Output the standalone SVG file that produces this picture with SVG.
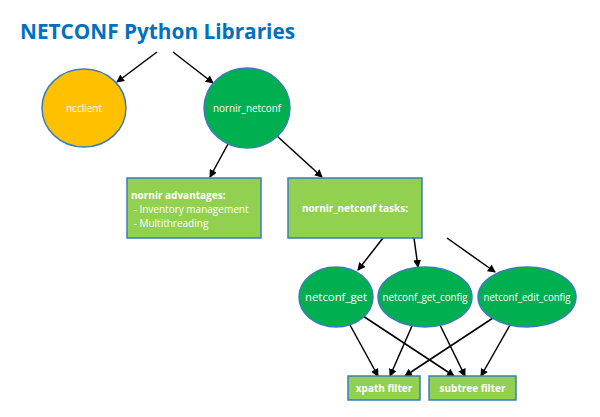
<svg xmlns="http://www.w3.org/2000/svg" width="600" height="417" viewBox="0 0 600 417">
<style>
.t{font-family:"Open Sans","Liberation Sans",sans-serif;fill:#fff;font-size:10px}
.b{font-weight:bold}
.dk{fill:#00b050;stroke:#3a7dbb;stroke-width:1.5}
.lg{fill:#92d050;stroke:#3a7dbb;stroke-width:1.5}
.c line{stroke:#000;stroke-width:1.5;marker-end:url(#a)}
</style>
<defs><marker id="a" markerWidth="8" markerHeight="8" refX="7" refY="4" orient="auto" markerUnits="userSpaceOnUse"><path d="M0,0L8,4L0,8z" fill="#000"/></marker></defs>
<text x="20" y="39" font-family="'Open Sans','Liberation Sans',sans-serif" font-weight="bold" font-size="22" fill="#0070c0" textLength="275" lengthAdjust="spacingAndGlyphs">NETCONF Python Libraries</text>
<g class="c">
<line x1="157" y1="52" x2="117" y2="82"/>
<line x1="173" y1="52" x2="213" y2="83"/>
<line x1="228" y1="144" x2="210" y2="177"/>
<line x1="277" y1="136" x2="322" y2="177"/>
<line x1="383" y1="238" x2="358" y2="270"/>
<line x1="414" y1="238" x2="418" y2="267"/>
<line x1="447" y1="238" x2="495" y2="272"/>
<line x1="350" y1="325" x2="378" y2="376"/>
<line x1="363" y1="316" x2="454" y2="376"/>
<line x1="412" y1="326" x2="390" y2="376"/>
<line x1="440" y1="325" x2="465" y2="376"/>
<line x1="493" y1="318" x2="405" y2="376"/>
<line x1="510" y1="325" x2="481" y2="376"/>
</g>
<g id="ncclient"><ellipse cx="84" cy="108" rx="42" ry="39" fill="#ffc000" stroke="#3a7dbb" stroke-width="1.5"/><text class="t" x="84" y="112" text-anchor="middle">ncclient</text></g>
<g id="nornir_netconf"><ellipse class="dk" cx="247" cy="108" rx="43" ry="40"/><text class="t" x="247" y="112" text-anchor="middle" textLength="68" lengthAdjust="spacingAndGlyphs">nornir_netconf</text></g>
<g id="adv"><rect class="lg" x="127" y="178" width="134" height="60"/><text class="t" x="131" y="199"><tspan class="b">nornir advantages:</tspan><tspan x="131" dy="14"> - Inventory management</tspan><tspan x="131" dy="14"> - Multithreading</tspan></text></g>
<g id="tasks"><rect class="lg" x="288" y="178" width="134" height="60"/><text class="t b" x="355" y="212" text-anchor="middle">nornir_netconf tasks:</text></g>
<g id="get"><ellipse class="dk" cx="336" cy="297" rx="37" ry="30"/><text class="t" x="336" y="301" text-anchor="middle" textLength="62" lengthAdjust="spacingAndGlyphs">netconf_get</text></g>
<g id="getcfg"><ellipse class="dk" cx="425" cy="297" rx="47" ry="30"/><text class="t" x="425" y="301" text-anchor="middle" textLength="85" lengthAdjust="spacingAndGlyphs">netconf_get_config</text></g>
<g id="editcfg"><ellipse class="dk" cx="527" cy="297" rx="49" ry="30"/><text class="t" x="527" y="301" text-anchor="middle" textLength="87" lengthAdjust="spacingAndGlyphs">netconf_edit_config</text></g>
<g id="xpath"><rect class="lg" x="348" y="376" width="72" height="24"/><text class="t b" x="384" y="392" text-anchor="middle">xpath filter</text></g>
<g id="subtree"><rect class="lg" x="429" y="376" width="87" height="24"/><text class="t b" x="472.5" y="392" text-anchor="middle">subtree filter</text></g>
</svg>
